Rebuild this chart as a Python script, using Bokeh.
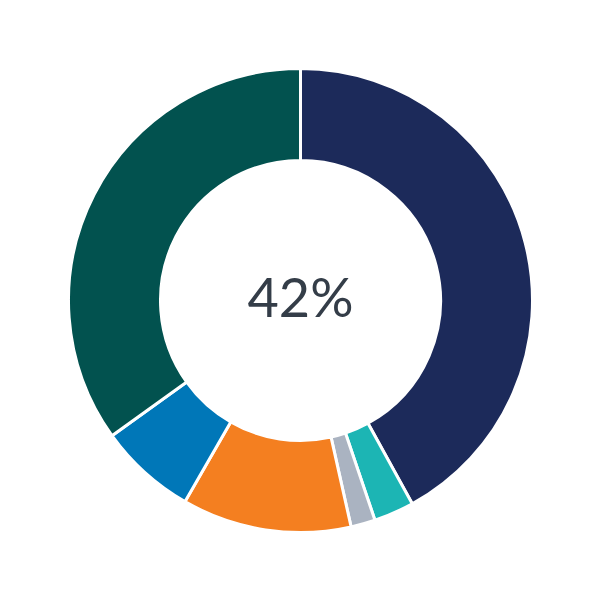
import numpy as np
from bokeh.plotting import figure
from bokeh.models import ColumnDataSource, Range1d
from bokeh.core.properties import value
from bokeh.embed import file_html
from bokeh.resources import INLINE

# slice shares (percent), clockwise from 12 o'clock
names = ["Navy", "Teal", "Gray", "Orange", "Blue", "Green"]
shares = [42.0, 2.8, 1.7, 11.8, 6.8, 34.9]
colors = ["#1c2a5a", "#1cb5b4", "#aab3c1", "#f47f20", "#0077b8", "#02524f"]
center_label = "42%"

frac = np.array(shares) / sum(shares)
ends = np.cumsum(frac)
starts = ends - frac
src = ColumnDataSource(dict(
    name=names,
    start=np.pi / 2 - starts * 2 * np.pi,
    end=np.pi / 2 - ends * 2 * np.pi,
    color=colors,
))

# page lands at the top-left corner, so shift the ranges to centre the ring at (300, 300)
p = figure(width=584, height=584, output_backend="svg", toolbar_location=None,
           x_range=Range1d(-300, 284), y_range=Range1d(-284, 300), min_border=0)
p.axis.visible = False
p.grid.visible = False
p.outline_line_color = None

p.annular_wedge(x=0, y=0, inner_radius=140, outer_radius=232,
                start_angle="start", end_angle="end", direction="clock",
                fill_color="color", line_color="white", line_width=3, source=src)

p.text(x=[0], y=[4], text=[center_label], text_align="center", text_baseline="middle",
       text_font=value("Lato"), text_font_size="54px", text_color="#343d48")

open("out.html", "w").write(file_html(p, INLINE))
